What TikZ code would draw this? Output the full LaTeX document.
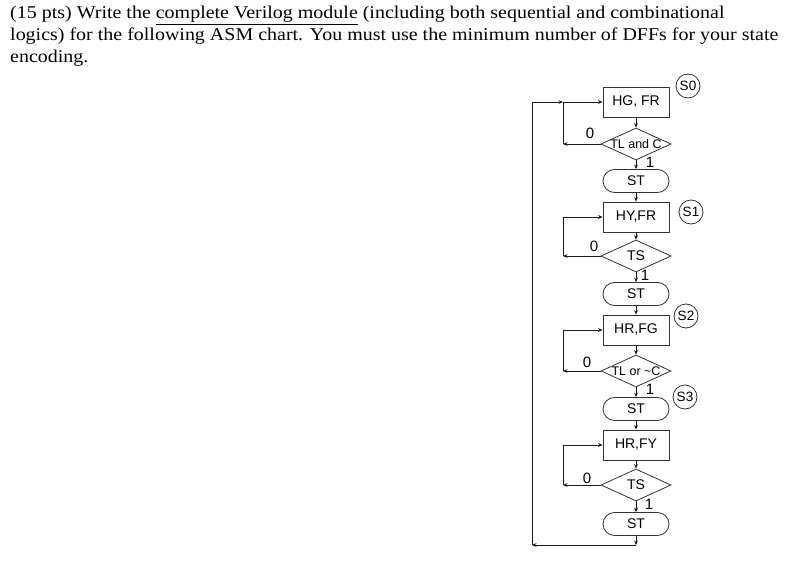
\documentclass[tikz,border=0pt]{standalone}
\usepackage{fontspec}
\setmainfont{Liberation Serif}
\newfontfamily\chartfont{Liberation Sans}
\usetikzlibrary{arrows.meta,shapes.geometric}
\tikzset{
  wire/.style={draw=black!90, line width=0.8pt},
  flow/.style={wire, -{Stealth[length=4.5pt,width=3.8pt]}},
  statebox/.style={draw=black!80, line width=0.8pt, minimum width=66pt, minimum height=30pt, inner sep=0pt, font=\chartfont\fontsize{14}{16}\selectfont},
  decision/.style={draw=black!80, line width=0.8pt, diamond, aspect=2.2, inner xsep=-5pt, inner ysep=0pt, minimum width=70pt, minimum height=32pt, font=\chartfont\fontsize{12.5}{14}\selectfont},
  bigcond/.style={font=\chartfont\fontsize{14}{16}\selectfont},
  terminal/.style={draw=black!80, line width=0.8pt, rounded corners=11.5pt, minimum width=66pt, minimum height=23pt, inner sep=0pt, font=\chartfont\fontsize{14}{16}\selectfont},
  stname/.style={draw=black!80, line width=0.8pt, circle, minimum size=24pt, inner sep=0pt, font=\chartfont\fontsize{13.5}{15}\selectfont},
  branch/.style={inner sep=0pt, font=\chartfont\fontsize{15}{17}\selectfont}
}

\begin{document}
\begin{tikzpicture}[x=1pt,y=-1pt]
	\useasboundingbox (0,0) rectangle (788,575);
	
	\node[anchor=north west, inner sep=0pt, font=\fontsize{18}{22}\selectfont] (task) at (10,3)
		{\scalebox{1.11}[1]{\begin{tabular}{@{}l@{}}
		(15 pts) Write the \underline{complete Verilog module} (including both sequential and combinational\\
		logics) for the following ASM chart. You must use the minimum number of DFFs for your state\\
		encoding.
		\end{tabular}}};
	
	\node[statebox] (hgfr) at (636,102) {HG, FR};
	\node[decision] (tlc) at (636,144) {TL and C};
	\node[terminal] (st0) at (636,181) {ST};
	
	\node[statebox] (hyfr) at (636,217) {HY,FR};
	\node[decision,bigcond] (ts1) at (636,256) {TS};
	\node[terminal] (st1) at (636,294) {ST};
	
	\node[statebox] (hrfg) at (636,330) {HR,FG};
	\node[decision] (tlnc) at (636,371) {TL or \textasciitilde C};
	\node[terminal] (st2) at (636,409) {ST};
	
	\node[statebox] (hrfy) at (636,445) {HR,FY};
	\node[decision,bigcond] (ts3) at (636,485) {TS};
	\node[terminal] (st3) at (636,524) {ST};
	
	\node[stname] (s0) at (688,86) {S0};
	\node[stname] (s1) at (691,212) {S1};
	\node[stname] (s2) at (686,316) {S2};
	\node[stname] (s3) at (685,397) {S3};
	
	\coordinate (retb) at (532,545);
	\coordinate (rett) at (532,102);
	\coordinate (j0) at (563,102);
	
	% straight down the chart
	\draw[flow] (hgfr) -- (tlc);
	\draw[flow] (tlc) -- (st0);
	\draw[flow] (st0) -- (hyfr);
	\draw[flow] (hyfr) -- (ts1);
	\draw[flow] (ts1) -- (st1);
	\draw[flow] (st1) -- (hrfg);
	\draw[flow] (hrfg) -- (tlnc);
	\draw[flow] (tlnc) -- (st2);
	\draw[flow] (st2) -- (hrfy);
	\draw[flow] (hrfy) -- (ts3);
	\draw[flow] (ts3) -- (st3);
	
	% back to S0
	\draw[flow] (st3.south) -- (st3.south |- retb);
	\draw[flow] (st3.south |- retb) -- (retb);
	\draw[wire] (retb) -- (rett);
	\draw[flow] (rett) -- (j0);
	\draw[flow] (j0) -- (hgfr.west);
	
	% 0 branches
	\draw[flow] (tlc.west) -- (tlc.west -| j0);
	\draw[wire] (tlc.west -| j0) -- (j0);
	\draw[flow] (ts1.west) -- (ts1.west -| j0);
	\draw[wire] (ts1.west -| j0) -- (hyfr.west -| j0);
	\draw[flow] (hyfr.west -| j0) -- (hyfr.west);
	\draw[flow] (tlnc.west) -- (tlnc.west -| j0);
	\draw[wire] (tlnc.west -| j0) -- (hrfg.west -| j0);
	\draw[flow] (hrfg.west -| j0) -- (hrfg.west);
	\draw[flow] (ts3.west) -- (ts3.west -| j0);
	\draw[wire] (ts3.west -| j0) -- (hrfy.west -| j0);
	\draw[flow] (hrfy.west -| j0) -- (hrfy.west);
	
	\node[branch] (z0) at (590,133) {0};
	\node[branch] (z1) at (594,246) {0};
	\node[branch] (z2) at (587,362) {0};
	\node[branch] (z3) at (587,478) {0};
	\node[branch] (o0) at (650,162) {1};
	\node[branch] (o1) at (645,275) {1};
	\node[branch] (o2) at (650,389) {1};
	\node[branch] (o3) at (649,504) {1};
\end{tikzpicture}
\end{document}
